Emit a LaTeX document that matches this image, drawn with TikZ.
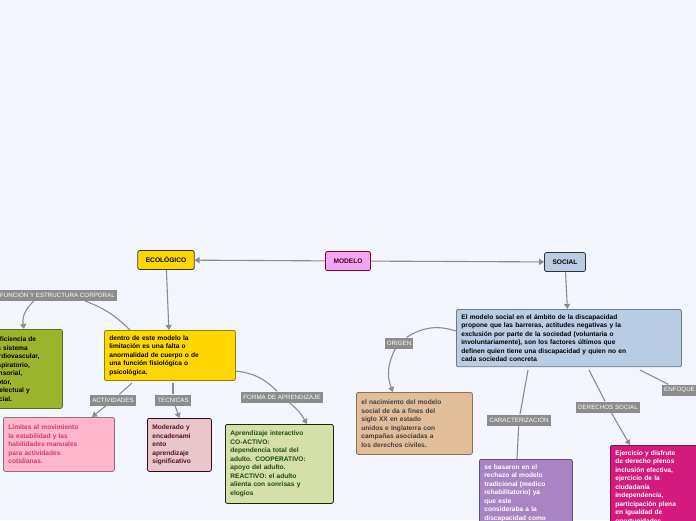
\documentclass[tikz,border=0pt]{standalone}
\usepackage{fontspec}
\setmainfont{Liberation Sans}
\usetikzlibrary{arrows.meta,positioning}
\definecolor{bgc}{HTML}{F3F6FF}
\definecolor{lnc}{HTML}{8C8C8C}
\definecolor{yel}{HTML}{FFD700}
\definecolor{blu}{HTML}{B8CCE4}
\definecolor{pnk}{HTML}{F2A6F2}
\definecolor{olv}{HTML}{9CB42C}
\definecolor{ros}{HTML}{FFB5CC}
\definecolor{rost}{HTML}{CC3D6E}
\definecolor{mar}{HTML}{E8C6CC}
\definecolor{mart}{HTML}{5A0F1E}
\definecolor{lgr}{HTML}{D4E0A8}
\definecolor{lgrt}{HTML}{1E4A14}
\definecolor{tan}{HTML}{E2BD9A}
\definecolor{pur}{HTML}{A884C4}
\definecolor{mag}{HTML}{D41A7C}
\begin{document}
\begin{tikzpicture}[x=1pt,y=-1pt,
    every node/.style={font=\bfseries\fontsize{6.6}{8.5}\selectfont},
    box/.style={draw=#1!60!black, rounded corners=2pt, line width=.8pt, anchor=north west, align=left, inner sep=5pt},
    topic/.style={draw=black!80, rounded corners=2pt, line width=.8pt, minimum height=19pt, inner xsep=8pt},
    lbl/.style={fill=lnc, text=white, font=\fontsize{6.2}{6.5}\selectfont, inner sep=2pt, minimum height=11pt},
    conn/.style={draw=lnc, line width=1.1pt},
    arr/.style={conn, -{Triangle[length=5pt,width=6pt]}}
  ]
  \useasboundingbox (0,0) rectangle (696,520);
  \fill[bgc] (0,0) rectangle (696,520);
  \clip (0,0) rectangle (696,520);

  % Nodes
  \node[topic, fill=pnk, draw=purple!70!black, text=purple!40!black] (modelo) at (348,261) {MODELO};
  \node[topic, fill=yel] (eco) at (166,260) {ECOLÓGICO};
  \node[topic, fill=blu] (social) at (565,262) {SOCIAL};

  \node[box=yel, fill=yel, text width=121pt] (ecomain) at (104,330) {dentro de este modelo la\\limitación es una falta o\\anormalidad de cuerpo o de\\una función fisiológica o\\psicológica.};
  \node[box=blu, fill=blu, text width=215pt] (socmain) at (456,309) {El modelo social en el ámbito de la discapacidad\\propone que las barreras, actitudes negativas y la\\exclusión por parte de la sociedad (voluntaria o\\involuntariamente), son los factores últimos que\\definen quien tiene una discapacidad y quien no en\\cada sociedad concreta};

  \node[box=olv, fill=olv, text width=66pt, minimum height=79pt] (deficit) at (-14,329) {Deficiencia de\\los sistema\\cardiovascular,\\respiratorio,\\sensorial,\\motor,\\intelectual y\\social.};
  \node[box=ros, fill=ros, text=rost, text width=101pt, minimum height=54pt] (limites) at (3,417) {Limites al movimiento\\la estabilidad y las\\habilidades manuales\\para actividades\\cotidianas.};
  \node[box=mart, fill=mar, text=mart, text width=54pt, minimum height=53pt] (moderado) at (147,418) {Moderado y\\encadenami\\ento\\aprendizaje\\significativo};
  \node[box=lgrt, fill=lgr, text=lgrt, text width=98pt, minimum height=79pt] (interac) at (225,424) {Aprendizaje interactivo\\CO-ACTIVO:\\dependencia total del\\adulto. COOPERATIVO:\\apoyo del adulto.\\REACTIVO: el adulto\\alienta con sonrisas y\\elogios};
  \node[box=tan, fill=tan, text=black!75, text width=106pt, minimum height=62pt] (origen) at (356,392) {el nacimiento del modelo\\social de da a fines del\\siglo XX en estado\\unidos e Inglaterra con\\campañas asociadas a\\los derechos civiles.};
  \node[box=pur, fill=pur, text=white, text width=83pt] (basaron) at (479,459) {se basaron en el\\rechazo al modelo\\tradicional (medico\\rehabilitatorio) ya\\que este\\consideraba a la\\discapacidad como\\una enfermedad};
  \node[box=mag, fill=mag, text=white, text width=80pt] (ejercicio) at (610,445) {Ejercicio y disfrute\\de derecho plenos\\inclusión efectiva,\\ejercicio de la\\ciudadanía\\independencia,\\participación plena\\en igualdad de\\oportunidades};

  % Labels
  \node[lbl, anchor=east] (lfunc) at (117,295) {FUNCIÓN Y ESTRUCTURA CORPORAL};
  \node[lbl] (lact) at (113,400) {ACTIVIDADES};
  \node[lbl] (ltec) at (173,400) {TÉCNICAS};
  \node[lbl] (lforma) at (282,397) {FORMA DE APRENDIZAJE};
  \node[lbl] (lorig) at (399,343) {ORIGEN};
  \node[lbl] (lcar) at (519,420) {CARACTERIZACIÓN};
  \node[lbl] (lder) at (608,407) {DERECHOS SOCIAL};
  \node[lbl, anchor=west] (lenf) at (662,390) {ENFOQUE};

  % Connectors
  \draw[arr] (modelo) -- (eco);
  \draw[arr] (modelo) -- (social);
  \draw[arr] (eco) -- (ecomain);
  \draw[arr] (social) -- (socmain);

  \draw[conn] (130,330) to[bend right=12] (85,301);
  \draw[arr] (34,301) to[bend right=30] (24,329);
  \draw[conn] (132,383) -- (lact);
  \draw[arr] (lact) -- (92,417);
  \draw[conn] (173,383) -- (ltec);
  \draw[arr] (ltec) -- (moderado.north);
  \draw[conn] (235,371) to[bend left=20] (lforma);
  \draw[arr] (lforma) to[bend left=10] (307,424);
  \draw[conn] (456,331) to[bend right=25] (lorig);
  \draw[arr] (lorig) to[bend right=25] (393,392);
  \draw[conn] (528,370) -- (lcar);
  \draw[conn] (lcar) -- (517,459);
  \draw[conn] (589,370) -- (lder);
  \draw[arr] (lder) -- (630,445);
  \draw[conn] (640,370) -- (lenf);
\end{tikzpicture}
\end{document}
